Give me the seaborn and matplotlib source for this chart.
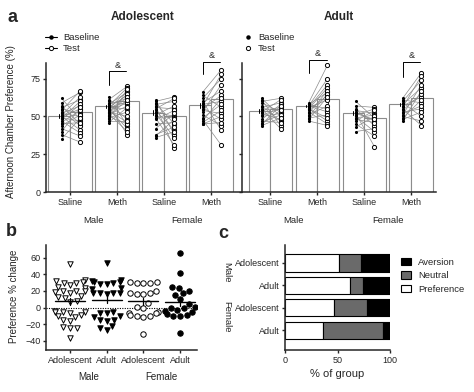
import numpy as np
import pandas as pd
import matplotlib
matplotlib.use("Agg")
import matplotlib.pyplot as plt
import seaborn as sns
from matplotlib.lines import Line2D
from matplotlib.patches import Patch
from matplotlib.transforms import blended_transform_factory


# ---- panel a data (afternoon chamber preference, %) ----
slots = ["M-Saline", "M-Meth", "F-Saline", "F-Meth"]
slot_labels = ["Saline", "Meth", "Saline", "Meth"]
sex_labels = ["Male", "Female"]

adol_bar_baseline = [50.4, 56.7, 52.5, 57.4]
adol_bar_test = [52.8, 60.0, 50.3, 61.8]
adult_bar_baseline = [53.5, 56.9, 52.5, 58.0]
adult_bar_test = [54.7, 61.8, 49.2, 62.5]

adol_baseline = [
    [62, 59, 57, 56, 55, 54, 53, 52, 52, 51, 50, 50, 49, 49, 48, 47, 46, 45, 44, 42, 40, 38, 35],
    [63, 61, 60, 59, 58, 58, 57, 57, 56, 56, 55, 55, 55, 54, 54, 53, 53, 52, 52, 51, 50, 50, 49, 48, 47, 46],
    [61, 60, 59, 58, 57, 56, 55, 54, 53, 52, 51, 50, 49, 48, 45, 42, 38, 37, 36],
    [66, 64, 62, 60, 59, 58, 57, 56, 55, 54, 53, 51, 49, 48, 47, 46, 45, 45],
]
adol_test = [
    [48, 66, 45, 61, 52, 67, 44, 57, 50, 63, 41, 55, 60, 47, 58, 39, 54, 46, 51, 37, 56, 33, 49],
    [44, 70, 58, 48, 66, 62, 38, 69, 55, 64, 42, 60, 67, 46, 59, 50, 65, 40, 63, 57, 45, 61, 53, 68, 47, 56],
    [38, 63, 45, 60, 29, 55, 62, 41, 50, 36, 57, 49, 31, 54, 46, 52, 43, 48, 40],
    [81, 56, 75, 41, 67, 60, 78, 48, 64, 52, 71, 44, 58, 31, 62, 54, 50, 46],
]
adult_baseline = [
    [62, 61, 60, 59, 57, 56, 55, 54, 53, 52, 51, 50, 48, 47, 46, 45, 45, 44],
    [59, 58, 57, 57, 56, 56, 55, 55, 54, 53, 52, 51, 50, 49, 48, 47, 58, 55],
    [60, 57, 55, 54, 53, 52, 51, 50, 49, 48, 47, 45, 43, 40, 52],
    [62, 61, 60, 59, 58, 57, 56, 55, 54, 53, 51, 50, 49, 48, 47, 52],
]
adult_test = [
    [50, 44, 62, 53, 47, 59, 42, 56, 61, 48, 55, 52, 58, 46, 51, 57, 54, 49],
    [84, 66, 75, 53, 71, 61, 47, 69, 64, 45, 67, 57, 65, 51, 63, 44, 55, 49],
    [49, 56, 44, 52, 47, 30, 55, 40, 51, 46, 54, 37, 50, 42, 48],
    [79, 59, 74, 50, 69, 63, 77, 44, 65, 55, 71, 47, 61, 53, 67, 57],
]

# ---- panel b data (preference % change) ----
b_groups = ["M-Adolescent", "M-Adult", "F-Adolescent", "F-Adult"]
b_labels = ["Adolescent", "Adult", "Adolescent", "Adult"]
male_adol_change = [52, 33, 32, 31, 30, 29, 27, 25, 23, 20, 20, 20, 19, 18, 14, 13, 12, 8, 7,
                    -4, -5, -5, -5, -6, -9, -10, -11, -15, -16, -23, -24, -24, -37]
male_adult_change = [53, 33, 32, 31, 31, 30, 28, 28, 23, 22, 18, 17, 17, 18, 16,
                     -5, -6, -6, -10, -11, -15, -16, -15, -22, -24, -27]
female_adol_change = [31, 31, 30, 29, 30, 20, 18, 16, 16, 17, 5, 1, -1,
                      -5, -6, -7, -9, -10, -10, -11, -32]
female_adult_change = [65, 41, 25, 23, 20, 17, 15, 10, 4, 1, 0, -1, -3, -4, -5,
                       -8, -9, -10, -10, -30]

# ---- panel c data (% of group) ----
c_labels = ["Adolescent", "Adult", "Adolescent", "Adult"]
pct_preference = [51, 62, 47, 36.5]
pct_neutral = [21.5, 12.5, 31, 57]
pct_aversion = [27.5, 25.5, 22, 6.5]


sns.set_style("ticks")
plt.rcParams["font.family"] = ["Liberation Sans", "DejaVu Sans"]
plt.rcParams["font.size"] = 6.5
plt.rcParams["axes.linewidth"] = 1.1
plt.rcParams["xtick.major.width"] = 1.0
plt.rcParams["ytick.major.width"] = 1.0
plt.rcParams["xtick.major.size"] = 2.5
plt.rcParams["ytick.major.size"] = 2.5
plt.rcParams["xtick.major.pad"] = 2
plt.rcParams["ytick.major.pad"] = 1.5

W, H = 474, 392
fig = plt.figure(figsize=(W / 100, H / 100), dpi=100)


def rect(x0, y0, x1, y1):
    return [x0 / W, 1 - y1 / H, (x1 - x0) / W, (y1 - y0) / H]


def fx(px):
    return px / W


def fy(py):
    return 1 - py / H


BASE_OFF, TEST_OFF = -0.18, 0.22


def draw_a(ax, bar_base, bar_test, pts_base, pts_test, brackets):
    df = pd.DataFrame({
        "slot": slots * 2,
        "phase": ["Baseline"] * 4 + ["Test"] * 4,
        "value": bar_base + bar_test,
    })
    sns.barplot(data=df, x="slot", y="value", hue="phase", order=slots,
                hue_order=["Baseline", "Test"],
                palette={"Baseline": "white", "Test": "white"},
                edgecolor="#8c8c8c", linewidth=0.8, width=0.92, gap=0,
                errorbar=None, legend=False, ax=ax, zorder=1)
    for i in range(4):
        b = np.array(pts_base[i])
        t = np.array(pts_test[i])
        for yb, yt in zip(b, t):
            ax.plot([i + BASE_OFF, i + TEST_OFF], [yb, yt], color="#8a8a8a",
                    lw=0.5, zorder=2)
        ax.scatter(np.full(len(b), i + BASE_OFF), b, s=5, color="black",
                   zorder=3, linewidths=0)
        ax.scatter(np.full(len(t), i + TEST_OFF), t, s=9, facecolor="white",
                   edgecolor="black", linewidths=0.7, zorder=3)
        for off, v, pts in [(-0.23, bar_base[i], b), (0.23, bar_test[i], t)]:
            sem = pts.std(ddof=1) / np.sqrt(len(pts))
            ax.plot([i + off, i + off], [v - sem, v + sem], color="black",
                    lw=0.7, zorder=2.5)
    for i, y_top, y_low, y_amp in brackets:
        ax.plot([i - 0.18, i - 0.18, i + 0.2], [y_low, y_top, y_top],
                color="black", lw=0.7, clip_on=False)
        ax.text(i + 0.01, y_amp, "&", ha="center", va="center", fontsize=6.5)
    ax.set_ylim(0, 85.4)
    ax.set_xlabel("")
    ax.set_ylabel("")
    ax.set_xticks(range(4))
    ax.set_xticklabels(slot_labels)
    ax.set_yticks([0, 25, 50, 75])
    trans = blended_transform_factory(ax.transData, ax.transAxes)
    for k, lab in enumerate(sex_labels):
        ax.text(2 * k + 0.5, -0.22, lab, transform=trans, ha="center",
                va="center", fontsize=6.8)
    sns.despine(ax=ax)


ax_a1 = fig.add_axes(rect(46, 63, 242, 192))
draw_a(ax_a1, adol_bar_baseline, adol_bar_test, adol_baseline, adol_test,
       [(1, 79.9, 70.6, 83.8), (3, 85.8, 77.9, 90.5)])
ax_a1.set_xlim(-0.51, 3.66)

ax_a2 = fig.add_axes(rect(242, 63, 436, 192))
draw_a(ax_a2, adult_bar_baseline, adult_bar_test, adult_baseline, adult_test,
       [(1, 87.2, 78.6, 91.8), (3, 85.8, 75.9, 90.5)])
ax_a2.set_xlim(-0.6, 3.53)
ax_a2.set_yticklabels([])

# legends panel a
h_line = [Line2D([], [], color="black", marker="o", ms=2.2, lw=0.8),
          Line2D([], [], color="black", marker="o", mfc="white", ms=3.0,
                 mew=0.7, lw=0.8)]
ax_a1.legend(h_line, ["Baseline", "Test"], loc="upper left",
             bbox_to_anchor=(fx(45), fy(33)), bbox_transform=fig.transFigure,
             frameon=False, handlelength=1.3, handletextpad=0.6,
             labelspacing=0.25, borderpad=0, borderaxespad=0, fontsize=6.8)
h_dot = [Line2D([], [], color="black", marker="o", ms=2.2, ls="none"),
         Line2D([], [], color="black", marker="o", mfc="white", ms=3.0,
                mew=0.7, ls="none")]
ax_a2.legend(h_dot, ["Baseline", "Test"], loc="upper left",
             bbox_to_anchor=(fx(245), fy(33)), bbox_transform=fig.transFigure,
             frameon=False, handlelength=0.6, handletextpad=0.8,
             labelspacing=0.25, borderpad=0, borderaxespad=0, fontsize=6.8)

fig.text(fx(143), fy(17), "Adolescent", ha="center", va="center",
         fontsize=8.5, weight="bold")
fig.text(fx(339), fy(17), "Adult", ha="center", va="center",
         fontsize=8.5, weight="bold")
fig.text(fx(12), fy(17), "a", ha="center", va="center", fontsize=13,
         weight="bold")
fig.text(fx(11), fy(122), "Afternoon Chamber Preference (%)", rotation=90,
         ha="center", va="center", fontsize=7)

# ---- panel b ----
ax_b = fig.add_axes(rect(46, 245, 197, 350))
b_values = [male_adol_change, male_adult_change, female_adol_change,
            female_adult_change]
b_styles = [("v", "white"), ("v", "black"), ("o", "white"), ("o", "black")]
dfb = pd.DataFrame({
    "group": np.repeat(b_groups, [len(v) for v in b_values]),
    "change": np.concatenate(b_values),
})
ax_b.axhline(0, color="black", lw=0.8, ls=(0, (1, 1.2)), zorder=0)
for g, (mk, col) in zip(b_groups, b_styles):
    sns.swarmplot(data=dfb[dfb["group"] == g], x="group", y="change",
                  order=b_groups, marker=mk, color=col, edgecolor="black",
                  linewidth=0.7, size=3.9, ax=ax_b, zorder=3)
for i, vals in enumerate(b_values):
    v = np.array(vals)
    m = v.mean()
    sem = v.std(ddof=1) / np.sqrt(len(v))
    ax_b.plot([i - 0.41, i + 0.41], [m, m], color="black", lw=1.0, zorder=4)
    ax_b.plot([i, i], [m - sem, m + sem], color="black", lw=0.9, zorder=4)
ax_b.set_ylim(-51, 75)
ax_b.set_xlim(-0.65, 3.46)
ax_b.set_yticks([-40, -20, 0, 20, 40, 60])
ax_b.set_xticks(range(4))
ax_b.set_xticklabels(b_labels)
ax_b.set_xlabel("")
ax_b.set_ylabel("")
trans_b = blended_transform_factory(ax_b.transData, ax_b.transAxes)
for k, lab in enumerate(sex_labels):
    ax_b.text(2 * k + 0.5, -0.26, lab, transform=trans_b, ha="center",
              va="center", fontsize=7)
sns.despine(ax=ax_b)
fig.text(fx(11), fy(232), "b", ha="center", va="center", fontsize=13,
         weight="bold")
fig.text(fx(14), fy(296), "Preference % change", rotation=90,
         ha="center", va="center", fontsize=7)

# ---- panel c ----
ax_c = fig.add_axes(rect(285, 245, 390, 350))
pos = np.arange(4)
pref = np.array(pct_preference)
neut = np.array(pct_neutral)
aver = np.array(pct_aversion)
ax_c.barh(pos, pref, height=0.76, color="white", edgecolor="black", lw=0.8)
ax_c.barh(pos, neut, left=pref, height=0.76, color="#6a6a6a",
          edgecolor="black", lw=0.8)
ax_c.barh(pos, aver, left=pref + neut, height=0.76, color="black",
          edgecolor="black", lw=0.8)
ax_c.set_ylim(3.87, -0.8)
ax_c.set_xlim(0, 100)
ax_c.set_xticks([0, 50, 100])
ax_c.set_yticks(pos)
ax_c.set_yticklabels(c_labels)
ax_c.set_xlabel("% of group", fontsize=8, labelpad=3)
sns.despine(ax=ax_c)
ax_c.legend([Patch(facecolor="black", edgecolor="black", lw=0.8),
             Patch(facecolor="#6a6a6a", edgecolor="black", lw=0.8),
             Patch(facecolor="white", edgecolor="black", lw=0.8)],
            ["Aversion", "Neutral", "Preference"], loc="upper left",
            bbox_to_anchor=(fx(401), fy(258)), bbox_transform=fig.transFigure,
            frameon=False, handlelength=1.1, handleheight=0.8,
            handletextpad=0.7, labelspacing=0.45, borderpad=0,
            borderaxespad=0, fontsize=6.8)
fig.text(fx(227), fy(272), "Male", rotation=270, ha="center", va="center",
         fontsize=6.8)
fig.text(fx(227), fy(317), "Female", rotation=270, ha="center", va="center",
         fontsize=6.8)
fig.text(fx(223), fy(233), "c", ha="center", va="center", fontsize=13,
         weight="bold")

fig.savefig("out.png", dpi=100)
